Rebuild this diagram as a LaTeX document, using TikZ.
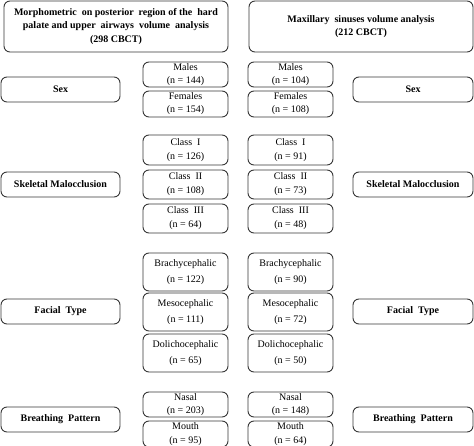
\documentclass[tikz,border=0pt]{standalone}
\usepackage{fontspec}
\setmainfont{Liberation Serif}
\usepackage{tikz}
\usetikzlibrary{positioning}
\definecolor{boxline}{RGB}{55,55,55}

\begin{document}
\begin{tikzpicture}[x=1pt, y=-1pt,
    every node/.style={draw=boxline, line width=0.9pt, rounded corners=6pt,
        inner sep=0pt, align=center, font=\fontsize{10}{13}\selectfont},
    headbox/.style={minimum width=224pt, minimum height=51pt, font=\bfseries\fontsize{10}{13.5}\selectfont},
    catbox/.style={minimum width=119pt, minimum height=25pt, font=\bfseries\fontsize{10}{13}\selectfont},
    subbox/.style={minimum width=85pt}]
\useasboundingbox (0,0) rectangle (474,446);

% headers
\node[headbox] (headL) at (116,26.5) {Morphometric\ \ on posterior\ \ region of the\ \ hard\\ palate and upper\ \ airways\ \ volume\ \ analysis\\ (298 CBCT)};
\node[headbox] (headR) at (361,26.5) {Maxillary\ \ sinuses volume analysis\\ (212 CBCT)};

% category labels, both sides
\foreach \nm/\cy/\txt in {sex/89.5/Sex, skel/184.5/Skeletal Malocclusion, face/311.5/Facial\ \ Type, breath/419.5/Breathing\ \ Pattern}
{
    \node[catbox] (\nm L) at (60.5,\cy) {\txt};
    \node[catbox, minimum width=120pt] (\nm R) at (413,\cy) {\txt};
}

% sub-groups: name / centre y / height / leading / label / n left / n right
\foreach \nm/\cy/\h/\lead/\lab/\nl/\nr in {males/74.5/25/13/Males/144/104, females/104/26/13/Females/154/108,
    classI/150/30/14/Class\ \ I/126/91, classII/184.5/29/14/Class\ \ II/108/73, classIII/218.5/29/14/Class\ \ III/64/48,
    brachy/272/38/15.5/Brachycephalic/122/90, meso/312/38/15.5/Mesocephalic/111/72, dolicho/353/38/15.5/Dolichocephalic/65/50,
    nasal/404.5/25/13/Nasal/203/148, mouth/434/26/14/Mouth/95/64}
{
    \node[subbox, minimum height=\h pt, font=\fontsize{10}{\lead}\selectfont] (\nm L) at (185.5,\cy) {\lab\\(n = \nl)};
    \node[subbox, minimum height=\h pt, font=\fontsize{10}{\lead}\selectfont] (\nm R) at (290.5,\cy) {\lab\\(n = \nr)};
}
\end{tikzpicture}
\end{document}
